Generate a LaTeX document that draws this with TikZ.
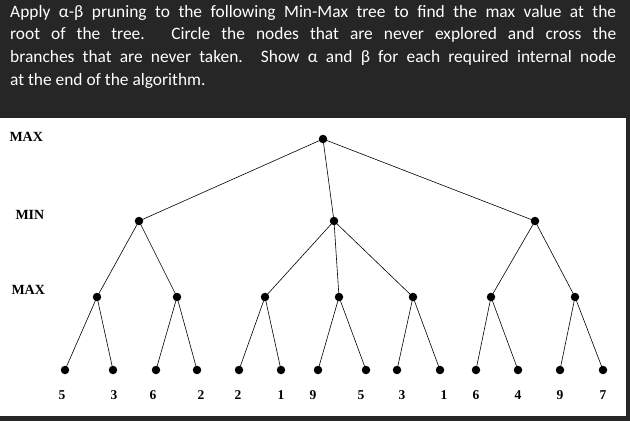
\documentclass[tikz,border=0pt]{standalone}
\usepackage{fontspec}
\setmainfont{Liberation Serif}
\newfontfamily\hdr{Carlito}
\begin{document}
\begin{tikzpicture}[x=1pt,y=-1pt,
  dot/.style={circle,fill=black,inner sep=0pt,minimum size=8.5pt},
  lvl/.style={font=\bfseries\fontsize{14}{16}\selectfont,anchor=west},
  lf/.style={font=\bfseries\fontsize{13.5}{15}\selectfont},
  edge/.style={draw=black,line width=0.6pt}]
\fill[black!85] (0,0) rectangle (630,421);
\useasboundingbox (0,0) rectangle (630,421);
\fill[white] (0,118) rectangle (626,416);
\node[anchor=north west,inner sep=0pt,text=white,text width=606pt,align=justify,
  font=\hdr\fontsize{17.4}{22.6}\selectfont] (hd) at (10,5)
  {Apply α-β pruning to the following Min-Max tree to find the max value at the\linebreak root of the tree. Circle the nodes that are never explored and cross the\linebreak branches that are never taken. Show α and β for each required internal node\linebreak at the end of the algorithm.\par};
\node[lvl] (l1) at (6,137) {MAX};
\node[lvl] (l2) at (12,215) {MIN};
\node[lvl] (l3) at (8,290) {MAX};
\node[dot] (r) at (323,139) {};
\node[dot] (m1) at (139,221) {};
\node[dot] (m2) at (334,221) {};
\node[dot] (m3) at (535,221) {};
\foreach \n/\x in {a/97,b/177,c/265,d/339,e/413,f/491,g/575}
  \node[dot] (\n) at (\x,297) {};
\foreach \i/\x in {1/65,2/113,3/156,4/197,5/239,6/281,7/318,8/366,9/397,10/440,11/476,12/518,13/560,14/603}
  \node[dot] (t\i) at (\x,370) {};
\foreach \i/\x/\v in {1/62/5,2/114/3,3/153/6,4/201/2,5/238/2,6/281/1,7/313/9,8/361/5,9/402/3,10/444/1,11/476/6,12/518/4,13/560/9,14/603/7}
  \node[lf] (v\i) at (\x,395) {\v};
\foreach \p/\c in {r/m1,r/m2,r/m3,m1/a,m1/b,m2/c,m2/d,m2/e,m3/f,m3/g,a/t1,a/t2,b/t3,b/t4,c/t5,c/t6,d/t7,d/t8,e/t9,e/t10,f/t11,f/t12,g/t13,g/t14}
  \draw[edge] (\p.center) -- (\c.center);
\end{tikzpicture}
\end{document}
